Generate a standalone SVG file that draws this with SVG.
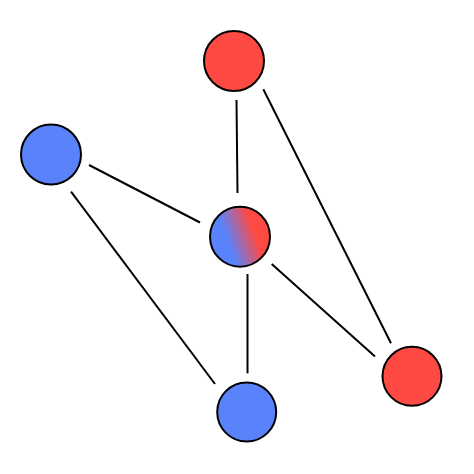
<svg xmlns="http://www.w3.org/2000/svg" width="474" height="474" viewBox="0 0 474 474">
<defs>
<linearGradient id="mix" x1="0.1" y1="0.64" x2="0.9" y2="0.36">
<stop offset="0.25" stop-color="#5a82fa"/>
<stop offset="0.8" stop-color="#ff4a44"/>
</linearGradient>
</defs>
<style>
.edge{stroke:#000;stroke-width:2;fill:none}
.node{stroke:#000;stroke-width:2}
.red{fill:#ff4a44}
.blue{fill:#5a82fa}
</style>
<rect width="474" height="474" fill="#fff"/>
<g id="edges">
<line class="edge" x1="236.5" y1="100" x2="237.5" y2="193"/>
<line class="edge" x1="89" y1="165" x2="200" y2="222.5"/>
<line class="edge" x1="263.3" y1="89.3" x2="391" y2="343.3"/>
<line class="edge" x1="271.7" y1="264" x2="375" y2="356.5"/>
<line class="edge" x1="71" y1="191.7" x2="215" y2="384"/>
<line class="edge" x1="247.5" y1="274" x2="247.5" y2="373.3"/>
</g>
<g id="n-top"><circle class="node red" cx="234" cy="61" r="30"/></g>
<g id="n-left"><circle class="node blue" cx="51" cy="154.5" r="30"/></g>
<g id="n-center"><circle class="node" fill="url(#mix)" cx="240" cy="236.7" r="30"/></g>
<g id="n-bottom"><circle class="node blue" cx="246.7" cy="412" r="29.5"/></g>
<g id="n-right"><circle class="node red" cx="412" cy="376.3" r="29.5"/></g>
</svg>
